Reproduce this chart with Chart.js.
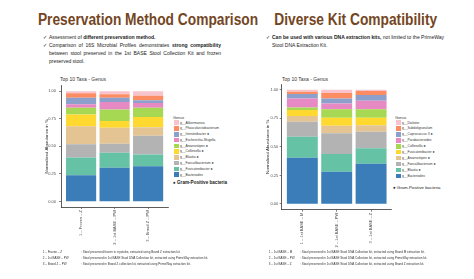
<!DOCTYPE html>
<html>
<head>
<meta charset="utf-8">
<script src="https://cdn.jsdelivr.net/npm/chart.js@4.4.1/dist/chart.umd.min.js"></script>
<style>
  body { margin: 0; width: 474px; height: 279px; background: #fff; position: relative; overflow: hidden; font-family: "Liberation Sans", Arial, sans-serif; color: #222; }
  .abs { position: absolute; white-space: nowrap; }
  .title { font-family: "Liberation Sans", sans-serif; font-weight: bold; font-size: 16px; color: #74461f; text-align: center; line-height: 16px; }
  .title span { display: inline-block; transform: scaleX(0.86); transform-origin: center; }
  .bul { font-size: 5px; line-height: 8px; }
  .jl { text-align: justify; text-align-last: justify; }
  .sub { font-size: 5px; color: #333; }
  .leg { font-size: 3.3px; color: #333; }
  .sw { position: absolute; width: 4.5px; height: 4.5px; }
  .foot { font-size: 3px; color: #333; line-height: 6px; }
  canvas { position: absolute; }
</style>
</head>
<body>
<div class="abs title" style="left:20px;width:228px;top:12px;"><span>Preservation Method Comparison</span></div>
<div class="abs title" style="left:255px;width:202px;top:12px;"><span>Diverse Kit Compatibility</span></div>

<div class="abs bul" style="left:43px;top:33px;">✓</div>
<div class="abs bul" style="left:49px;top:33px;">Assessment of <b>different preservation method.</b></div>
<div class="abs bul" style="left:43px;top:41px;">✓</div>
<div class="abs bul jl" style="left:49px;top:41px;width:172px;">Comparison of 16S Microbial Profiles demonstrates <b>strong compatibility</b></div>
<div class="abs bul jl" style="left:49px;top:49px;width:172px;">between stool preserved in the 1st BASE Stool Collection Kit and frozen</div>
<div class="abs bul" style="left:49px;top:57px;">preserved stool.</div>

<div class="abs bul" style="left:266px;top:33px;">✓</div>
<div class="abs bul jl" style="left:272px;top:33px;width:172px;"><b>Can be used with various DNA extraction kits,</b> not limited to the PrimeWay</div>
<div class="abs bul" style="left:272px;top:41px;">Stool DNA Extraction Kit.</div>

<div class="abs sub" style="left:60px;top:76px;">Top 10 Taxa - Genus</div>
<div class="abs sub" style="left:282px;top:76px;">Top 10 Taxa - Genus</div>

<canvas id="leftChart" width="127" height="170" style="left:43px;top:80px;"></canvas>
<canvas id="rightChart" width="128" height="171" style="left:264px;top:79px;"></canvas>

<div id="leftLegend"></div>
<div id="rightLegend"></div>

<div id="leftFoot"></div>
<div id="rightFoot"></div>

<script>
// sample (bar) names
const leftSamples = ['1 – Frozen – Z', '2 – 1st BASE – PW', '3 – Brand Z – PW'];
const rightSamples = ['1 – 1st BASE – M', '2 – 1st BASE – PW', '3 – 1st BASE – Z'];

// genera, bottom of the stack first
const leftGenera = ['g__Bacteroides', 'g__Fusicatenibacter', 'g__Faecalibacterium', 'g__Blautia', 'g__Collinsella',
    'g__Anaerostipes', 'g__Escherichia-Shigella', 'g__Intestinibacter', 'g__Phascolarctobacterium', 'g__Akkermansia'];
const leftGramPositive = [false, true, true, true, true, true, false, true, false, false];
const rightGenera = ['g__Bacteroides', 'g__Blautia', 'g__Faecalibacterium', 'g__Anaerostipes', 'g__Fusicatenibacter',
    'g__Collinsella', 'g__Parabacteroides', 'g__Coprococcus 3', 'g__Subdoligranulum', 'g__Dialister'];
const rightGramPositive = [false, true, true, true, true, true, false, true, false, false];

// normalized abundance per sample, same order as the genera
const frozenZ = [0.239, 0.160, 0.121, 0.163, 0.106, 0.060, 0.033, 0.058, 0.042, 0.018];
const firstBasePwLeft = [0.305, 0.136, 0.082, 0.145, 0.063, 0.103, 0.069, 0.037, 0.033, 0.027];
const brandZPw = [0.320, 0.106, 0.169, 0.079, 0.093, 0.082, 0.045, 0.024, 0.040, 0.042];

const firstBaseM = [0.405, 0.184, 0.131, 0.050, 0.052, 0.023, 0.079, 0.038, 0.021, 0.017];
const firstBasePwRight = [0.283, 0.154, 0.181, 0.067, 0.070, 0.073, 0.052, 0.044, 0.047, 0.029];
const firstBaseZ = [0.353, 0.134, 0.146, 0.055, 0.067, 0.073, 0.076, 0.049, 0.035, 0.012];

const yTicks = [0, 0.25, 0.5, 0.75, 1];

const colors = ['#3a7db8', '#66c2a5', '#b3b3b3', '#e5c494', '#ffd92f', '#a6d854', '#e78ac3', '#8da0cb', '#fc8d62', '#f7c3cd'];

const leftNotes = [
    ['1 – Frozen – Z', ': Stool preserved frozen in cryotube, extracted using Brand Z extraction kit.'],
    ['2 – 1st BASE – PW', ': Stool preserved in 1st BASE Stool DNA Collection kit, extracted using PrimeWay extraction kit.'],
    ['3 – Brand Z – PW', ': Stool preserved in Brand Z collection kit, extracted using PrimeWay extraction kit.']
];
const rightNotes = [
    ['1 – 1st BASE – M', ': Stool preserved in 1st BASE Stool DNA Collection kit, extracted using Brand M extraction kit.'],
    ['2 – 1st BASE – PW', ': Stool preserved in 1st BASE Stool DNA Collection kit, extracted using PrimeWay extraction kit.'],
    ['3 – 1st BASE – Z', ': Stool preserved in 1st BASE Stool DNA Collection kit, extracted using Brand Z extraction kit.']
];

const axisColor = '#333';
const tickColor = '#4d4d4d';

function buildChart(id, samples, sampleValues, genera, opt) {
    const datasets = genera.map(function (g, i) {
        return {
            label: g,
            data: samples.map(function (s, j) { return { x: j, y: sampleValues[j][i] }; }),
            backgroundColor: colors[i],
            borderWidth: 0,
            barPercentage: 0.9,
            categoryPercentage: 1
        };
    });
    return new Chart(document.getElementById(id), {
        type: 'bar',
        data: { datasets: datasets },
        options: {
            responsive: false,
            animation: false,
            layout: { padding: { top: opt.padTop, right: opt.padRight, left: 0, bottom: 0 } },
            plugins: { legend: { display: false }, tooltip: { enabled: false } },
            scales: {
                x: {
                    type: 'linear',
                    stacked: true,
                    offset: false,
                    min: -0.6,
                    max: samples.length - 0.4,
                    afterBuildTicks: function (scale) {
                        scale.ticks = samples.map(function (s, i) { return { value: i }; });
                    },
                    afterFit: function (scale) { scale.height = opt.xHeight; },
                    ticks: {
                        callback: function (v) { return samples[v]; },
                        minRotation: 90, maxRotation: 90, autoSkip: false,
                        font: { size: 4, family: 'Liberation Sans' }, color: tickColor, padding: 1
                    },
                    grid: { display: true, offset: false, drawOnChartArea: false, tickLength: 2, color: axisColor, lineWidth: 0.6 },
                    border: { display: true, color: axisColor, width: 0.8 }
                },
                y: {
                    stacked: true,
                    min: -0.05,
                    max: 1.05,
                    afterBuildTicks: function (scale) {
                        scale.ticks = yTicks.map(function (v) { return { value: v }; });
                    },
                    afterFit: function (scale) { scale.width = opt.yWidth; },
                    ticks: {
                        callback: function (v) { return v.toFixed(2); },
                        font: { size: 4, family: 'Liberation Sans' }, color: tickColor, padding: opt.tickPad
                    },
                    title: {
                        display: true, text: 'Normalized Abundance in %',
                        font: { size: 4.3, family: 'Liberation Sans' }, color: '#222', padding: { top: 1, bottom: 0 }
                    },
                    grid: { display: true, drawOnChartArea: false, tickLength: 2, color: axisColor, lineWidth: 0.6 },
                    border: { display: true, color: axisColor, width: 0.8 }
                }
            }
        }
    });
}

function buildLegend(el, genera, gram, opt) {
    let html = '<div class="abs leg" style="left:' + opt.x + 'px;top:' + (opt.y - 7) + 'px;font-size:3.8px;">Genus</div>';
    for (let k = 0; k < genera.length; k++) {
        const i = genera.length - 1 - k;
        const y = opt.y + k * opt.step;
        html += '<div class="sw" style="left:' + (opt.x + 1) + 'px;top:' + (y - 2.25) + 'px;background:' + colors[i] + ';"></div>';
        html += '<div class="abs leg" style="left:' + (opt.x + 7) + 'px;top:' + (y - 2.2) + 'px;line-height:4.4px;">' +
            genera[i] + (gram[i] ? ' <span style="font-size:3.6px;">●</span>' : '') + '</div>';
    }
    html += '<div class="abs" style="left:' + opt.gx + 'px;top:' + (opt.gy - 3) + 'px;font-size:' + opt.gs + 'px;line-height:6px;color:#222;' + opt.gw + '">● Gram-Positive bacteria</div>';
    el.innerHTML = html;
}

function buildNotes(el, notes, opt) {
    let html = '';
    notes.forEach(function (n, i) {
        const top = opt.y + i * 6 - 3;
        html += '<div class="abs foot" style="left:' + opt.x + 'px;top:' + top + 'px;">' + n[0] + '</div>';
        html += '<div class="abs foot" style="left:' + opt.cx + 'px;top:' + top + 'px;">' + n[1] + '</div>';
    });
    el.innerHTML = html;
}

buildChart('leftChart', leftSamples, [frozenZ, firstBasePwLeft, brandZPw], leftGenera,
    { padTop: 5.7, padRight: 1.8, xHeight: 43, yWidth: 18, tickPad: 3 });
buildChart('rightChart', rightSamples, [firstBaseM, firstBasePwRight, firstBaseZ], rightGenera,
    { padTop: 5, padRight: 0.3, xHeight: 40.3, yWidth: 17.7, tickPad: 1.5 });

buildLegend(document.getElementById('leftLegend'), leftGenera, leftGramPositive,
    { x: 173, y: 122.7, step: 5.78, gx: 173, gy: 182.5, gs: 4.6, gw: 'font-weight:bold;' });
buildLegend(document.getElementById('rightLegend'), rightGenera, rightGramPositive,
    { x: 395, y: 122.7, step: 5.9, gx: 393, gy: 187.7, gs: 4.3, gw: '' });

buildNotes(document.getElementById('leftFoot'), leftNotes, { x: 42.7, cx: 81, y: 251.6 });
buildNotes(document.getElementById('rightFoot'), rightNotes, { x: 268.7, cx: 300, y: 251.6 });
</script>
</body>
</html>
